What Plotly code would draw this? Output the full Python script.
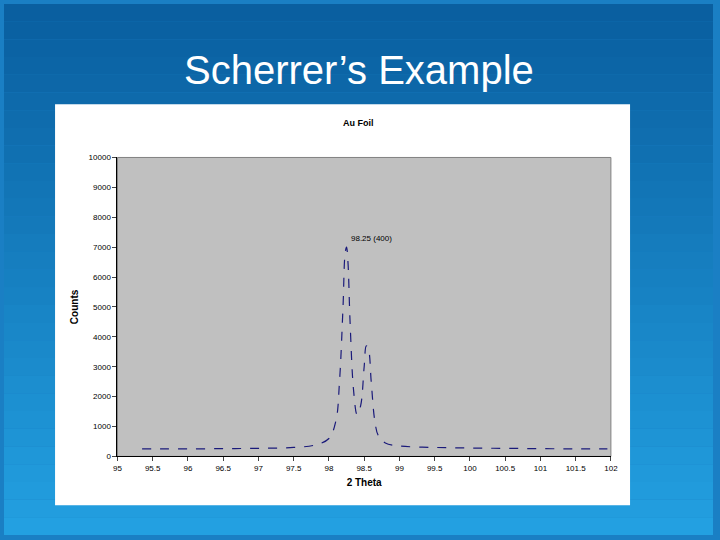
"""Scherrer's Example - Au foil diffraction peak"""
import plotly.graph_objects as go

# data
two_theta = [95.35, 95.6, 96.0, 96.5, 97.0, 97.5, 97.8, 98.0, 98.1, 98.15, 98.2, 98.23,
             98.25, 98.27, 98.3, 98.35, 98.4, 98.45, 98.5, 98.53, 98.56, 98.6, 98.65,
             98.7, 98.8, 99.0, 99.5, 100.0, 100.5, 101.0, 101.5, 101.95]
counts = [250, 250, 250, 260, 270, 300, 380, 600, 1200, 2500, 5000, 6800,
          7000, 6500, 4500, 2200, 1400, 1700, 3000, 3700, 3600, 2500, 1200,
          700, 450, 350, 300, 280, 270, 260, 250, 250]
x_ticks = [95 + 0.5 * i for i in range(15)]
x_labels = ["95", "95.5", "96", "96.5", "97", "97.5", "98", "98.5", "99", "99.5",
            "100", "100.5", "101", "101.5", "102"]

fig = go.Figure()
fig.add_trace(go.Scatter(x=two_theta, y=counts, mode="lines",
                         line=dict(color="#1a1a7a", width=1.2, dash="dash",
                                   shape="spline")))

# slide background gradient
shapes = []
n = 30
for i in range(n):
    t = i / (n - 1)
    r = int(10 + 25 * t); g = int(95 + 65 * t); b = int(160 + 65 * t)
    shapes.append(dict(type="rect", xref="paper", yref="paper", layer="below",
                       x0=0, x1=1, y0=1 - (i + 1) / n, y1=1 - i / n,
                       line_width=0, fillcolor=f"rgb({r},{g},{b})"))
shapes.append(dict(type="rect", xref="paper", yref="paper", layer="below",
                   x0=0.072, x1=0.883, y0=0.056, y1=0.811,
                   line_width=0, fillcolor="white"))
shapes.append(dict(type="rect", xref="paper", yref="paper", layer="below",
                   x0=0.16, x1=0.856, y0=0.148, y1=0.711,
                   line=dict(color="#808080", width=1), fillcolor="#c0c0c0"))

font = "Liberation Sans, Arial, sans-serif"
fig.update_layout(
    width=720, height=540, margin=dict(l=0, r=0, t=0, b=0),
    paper_bgcolor="#1a7fc4", plot_bgcolor="rgba(0,0,0,0)",
    showlegend=False, shapes=shapes, font=dict(family=font, size=8, color="black"),
    xaxis=dict(domain=[0.16, 0.856], range=[95, 102], tickvals=x_ticks,
               ticktext=x_labels, ticks="outside", ticklen=4, showgrid=False,
               zeroline=False, showline=True, linecolor="black",
               title=dict(text="<b>2 Theta</b>", standoff=6)),
    yaxis=dict(domain=[0.148, 0.711], range=[0, 10000], dtick=1000, tickformat="d",
               ticks="outside", ticklen=4, showgrid=False, zeroline=False,
               showline=True, linecolor="black",
               title=dict(text="<b>Counts</b>", standoff=8)),
    annotations=[
        dict(text="Scherrer’s Example", xref="paper", yref="paper", x=0.5, y=0.875,
             yanchor="middle", showarrow=False,
             font=dict(size=40, color="white", family=font)),
        dict(text="<b>Au Foil</b>", xref="paper", yref="paper", x=0.5, y=0.776,
             yanchor="middle", showarrow=False, font=dict(size=9, family=font)),
        dict(text="98.25 (400)", x=98.25, y=7000, xanchor="left", yanchor="bottom",
             xshift=2, yshift=2, showarrow=False, font=dict(size=8, family=font)),
    ],
)
fig.write_html("out.html", config={"displayModeBar": False},
               post_script="document.body.style.margin='0';document.body.style.overflow='hidden';")
